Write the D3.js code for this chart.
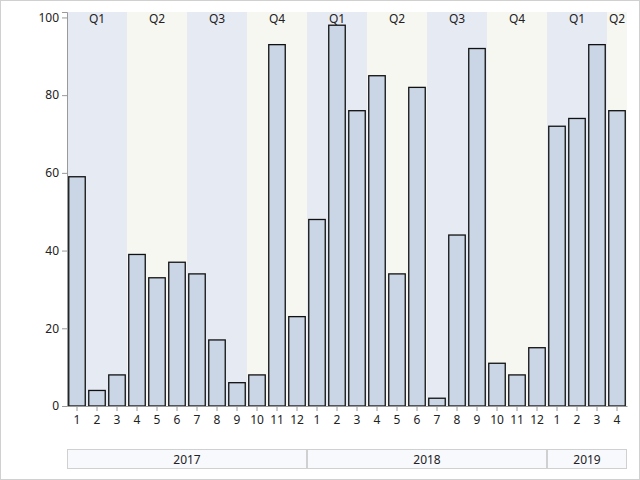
<!DOCTYPE html>
<html><head><meta charset="utf-8">
<script src="https://cdn.jsdelivr.net/npm/d3@7"></script>
<style>body{margin:0;background:#fff}svg{display:block}text{font-family:"Noto Sans",sans-serif;fill:#222}</style>
</head><body>
<svg id="c" width="640" height="480"></svg>
<script>
const years = ["2017","2018","2019"];
const months2017 = [1,2,3,4,5,6,7,8,9,10,11,12];
const months2018 = [1,2,3,4,5,6,7,8,9,10,11,12];
const months2019 = [1,2,3,4];
const values2017 = [59,4,8,39,33,37,34,17,6,8,93,23];
const values2018 = [48,98,76,85,34,82,2,44,92,11,8,15];
const values2019 = [72,74,93,76];
const yTicks = [0,20,40,60,80,100];

(function(){
const data = [];
[[years[0],months2017,values2017],[years[1],months2018,values2018],[years[2],months2019,values2019]].forEach(([yr,ms,vs])=>{
  ms.forEach((m,i)=>data.push({year:yr,month:m,value:vs[i],key:yr+"-"+m}));
});

const svg = d3.select("#c");
const W=640,H=480;
const pl=67,pr=627,pt=12,pb=406;

svg.append("rect").attr("x",0.5).attr("y",0.5).attr("width",W-1).attr("height",H-1).attr("fill","#fff").attr("stroke","#d0d0d0");

const x = d3.scaleBand().domain(data.map(d=>d.key)).range([pl,pr]).paddingInner(0.125).paddingOuter(0.0625);
const step = x.step();
const y = d3.scaleLinear().domain([0,101.4]).range([pb,pt]);

const quarters=[];
data.forEach((d,i)=>{
  const q=Math.floor((d.month-1)/3);
  const k=d.year+"Q"+q;
  let last=quarters[quarters.length-1];
  if(!last||last.k!==k){last={k,q,start:i,end:i};quarters.push(last);}else last.end=i;
});
const bx = i=>pl+i*step;
quarters.forEach((qq,j)=>{
  svg.append("rect").attr("x",bx(qq.start)).attr("y",pt).attr("width",(qq.end-qq.start+1)*step).attr("height",pb-pt)
    .attr("fill", j%2===0?"#e6eaf3":"#f7f7f2");
  svg.append("text").attr("x",bx(qq.start)+(qq.end-qq.start+1)*step/2).attr("y",pt+11).attr("text-anchor","middle")
    .attr("font-size",12).text("Q"+(qq.q+1));
});

svg.selectAll(".bar").data(data).enter().append("rect")
  .attr("x",d=>x(d.key)+0.5).attr("width",x.bandwidth()-1)
  .attr("y",d=>y(d.value)).attr("height",d=>y(0)-y(d.value))
  .attr("fill","#cad5e5").attr("stroke","#111").attr("stroke-width",1.3);

const ya = svg.append("g").attr("transform",`translate(${pl},0)`)
  .call(d3.axisLeft(y).tickValues(yTicks).tickSize(5).tickPadding(3));
ya.select(".domain").attr("stroke","#9a9a9a");
ya.selectAll(".tick line").attr("stroke","#9a9a9a");
ya.selectAll("text").attr("font-size",12).attr("fill","#222").style("font-family","'Noto Sans',sans-serif");

const xa = svg.append("g").attr("transform",`translate(0,${pb})`)
  .call(d3.axisBottom(x).tickFormat(k=>k.split("-")[1]).tickSize(5).tickPadding(4).tickSizeOuter(0));
xa.select(".domain").attr("stroke","#9a9a9a");
xa.selectAll(".tick line").attr("stroke","#9a9a9a");
xa.selectAll("text").attr("font-size",12).attr("fill","#222").style("font-family","'Noto Sans',sans-serif");

let idx=0;
[[years[0],months2017],[years[1],months2018],[years[2],months2019]].forEach(([yr,ms])=>{
  const x0=bx(idx), w=ms.length*step;
  svg.append("rect").attr("x",x0+0.5).attr("y",449.5).attr("width",w-1).attr("height",19).attr("fill","#f8f9fd").attr("stroke","#d0d0d0");
  svg.append("text").attr("x",x0+w/2).attr("y",463.5).attr("text-anchor","middle").attr("font-size",12).text(yr);
  idx+=ms.length;
});
})();
</script>
</body></html>
